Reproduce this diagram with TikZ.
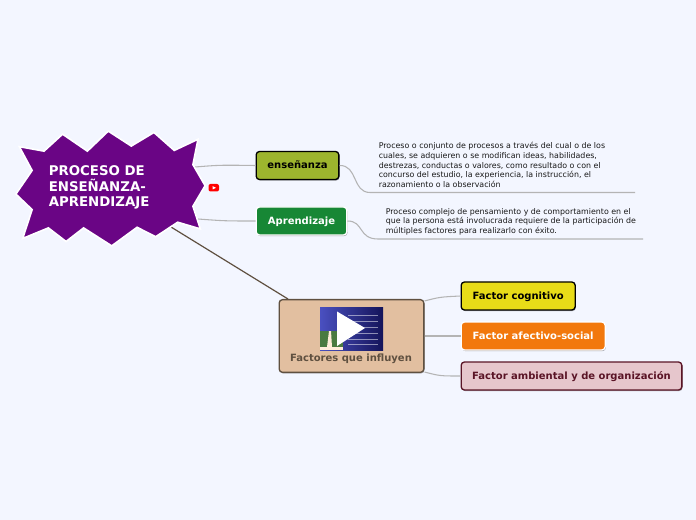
\documentclass[tikz,border=0pt]{standalone}
\usepackage{fontspec}
\setmainfont{DejaVu Sans}
\usetikzlibrary{shadows,shapes.geometric}
\definecolor{pagebg}{HTML}{F3F6FF}
\definecolor{rootfill}{HTML}{6A0585}
\definecolor{lime}{HTML}{9DB52E}
\definecolor{leaf}{HTML}{178735}
\definecolor{tan}{HTML}{E2BFA0}
\definecolor{tanline}{HTML}{5F5040}
\definecolor{yell}{HTML}{E8DC18}
\definecolor{orng}{HTML}{F2780C}
\definecolor{rose}{HTML}{E6C6CC}
\definecolor{wine}{HTML}{5A1426}
\definecolor{linkgray}{HTML}{B4B4B4}
\definecolor{thumbblue}{HTML}{4A50C0}
\definecolor{thumbnavy}{HTML}{14145A}
\definecolor{thumbgreen}{HTML}{4A7A40}
\tikzset{
  topic/.style={rounded corners=2.5pt,line width=1pt,font=\bfseries\fontsize{7.5}{10}\selectfont,
    inner sep=0pt,anchor=west,minimum height=21pt,text height=5.6pt,text depth=0.9pt,
    drop shadow={shadow xshift=0.5pt,shadow yshift=-0.8pt,fill=black,opacity=0.35}},
  note/.style={font=\fontsize{5.92}{7.25}\selectfont,align=left,anchor=north west,inner sep=0pt,text=black!90},
  link/.style={linkgray,line width=0.8pt},
}
\begin{document}
\begin{tikzpicture}[x=0.75pt,y=-0.75pt]
   \useasboundingbox[fill=pagebg] (0,0) rectangle (696,520);
   % links first
   \coordinate (rootA) at (195,167);
   \coordinate (rootB) at (198,219);
   \coordinate (rootC) at (171,227);
   \node[topic,draw=black,fill=lime,text=black,minimum width=62pt] (ensenanza) at (255.5,165.5) {enseñanza};
   \node[topic,draw=white,fill=leaf,text=white,minimum width=68pt] (aprendizaje) at (255.5,221) {Aprendizaje};
   \node[topic,draw=tanline,fill=tan,minimum width=108.5pt,minimum height=54.5pt] (factores) at (278.5,336) {};
   \node[font=\bfseries\fontsize{7.5}{10}\selectfont,text=tanline,inner sep=0pt] (factorestxt) at (351,358.5) {Factores que influyen};
   \node[topic,draw=black,fill=yell,text=black,minimum width=85.5pt] (cognitivo) at (460.5,296) {Factor cognitivo};
   \node[topic,draw=white,fill=orng,text=white,minimum width=108pt] (afectivo) at (460.5,336) {Factor afectivo-social};
   \node[topic,draw=wine,fill=rose,text=wine,minimum width=165.5pt] (ambiental) at (460.5,376) {Factor ambiental y de organización};
   \coordinate (noteA) at (370,192.5);
   \coordinate (noteAend) at (635,192.5);
   \coordinate (noteB) at (378,239);
   \coordinate (noteBend) at (643,239);
   \draw[link] (rootA) .. controls (220,165) .. (ensenanza.west);
   \draw[link] (rootB) .. controls (225,221) .. (aprendizaje.west);
   \draw[tanline,line width=0.9pt] (rootC) -- (factores.north west -| 288,300);
   \draw[link] (ensenanza.east) .. controls (358,165) and (352,192.5) .. (noteA) -- (noteAend);
   \draw[link] (aprendizaje.east) .. controls (364,221) and (358,239) .. (noteB) -- (noteBend);
   \draw[link] (factores.east |- 0,301) .. controls (440,297) .. (cognitivo.west);
   \draw[link] (factores.east) -- (afectivo.west);
   \draw[link] (factores.east |- 0,372) .. controls (440,376) .. (ambiental.west);
   % root star
   \draw[fill=rootfill,draw=white,line width=1.2pt,line join=miter,scale around={1.015:(110,188)}] (20.7,147.3) -- (45,151.7) -- (63.3,135) -- (87.7,151.7) -- (108.3,132) -- (131,146.7) -- (153.3,133.3) -- (173.3,151) -- (196.7,140) -- (191.7,165) -- (203.7,185.7) -- (191.7,206) -- (199,228.3) -- (176.7,221.7) -- (155,236) -- (136.7,226.7) -- (111.7,245) -- (84,227.3) -- (66.7,240.7) -- (49.3,227.3) -- (24,237.7) -- (33.3,209.3) -- (17.3,194) -- (33.3,170.7) -- cycle;
   \node[font=\bfseries\fontsize{10}{11.6}\selectfont,text=white,align=left,anchor=west,inner sep=0pt] (root) at (48.5,187.5) {PROCESO DE\\ENSEÑANZA-\\APRENDIZAJE};
   % small video mark
   \draw[fill=red,draw=none,rounded corners=1.5pt] (208.5,184) rectangle (219,191.5);
   \fill[white] (212.5,186) -- (216,187.8) -- (212.5,189.5) -- cycle;
   % notes
   \node[note] (noteAtxt) at (378.5,142.3) {Proceso o conjunto de procesos a través del cual o de los\\cuales, se adquieren o se modifican ideas, habilidades,\\destrezas, conductas o valores, como resultado o con el\\concurso del estudio, la experiencia, la instrucción, el\\razonamiento o la observación};
   \node[note] (noteBtxt) at (385.5,208) {Proceso complejo de pensamiento y de comportamiento en el\\que la persona está involucrada requiere de la participación de\\múltiples factores para realizarlo con éxito.};
   % thumbnail
   \shade[left color=thumbblue,right color=thumbnavy] (320,307.5) rectangle (383,350);
   \fill[thumbgreen] (320,331) rectangle (343,347);
   \fill[white!85!orange] (327,347) -- (329,331) -- (331,331) -- (332,347) -- cycle;
   \fill[white!85!orange] (320,347) rectangle (343,350);
   \foreach \y in {315,321,327,333,339,344}
     \draw[white,opacity=0.5,line width=0.3pt] (348,\y) -- (378,\y);
   \fill[white] (337,311.5) -- (365,328) -- (337,346) -- cycle;
\end{tikzpicture}
\end{document}
